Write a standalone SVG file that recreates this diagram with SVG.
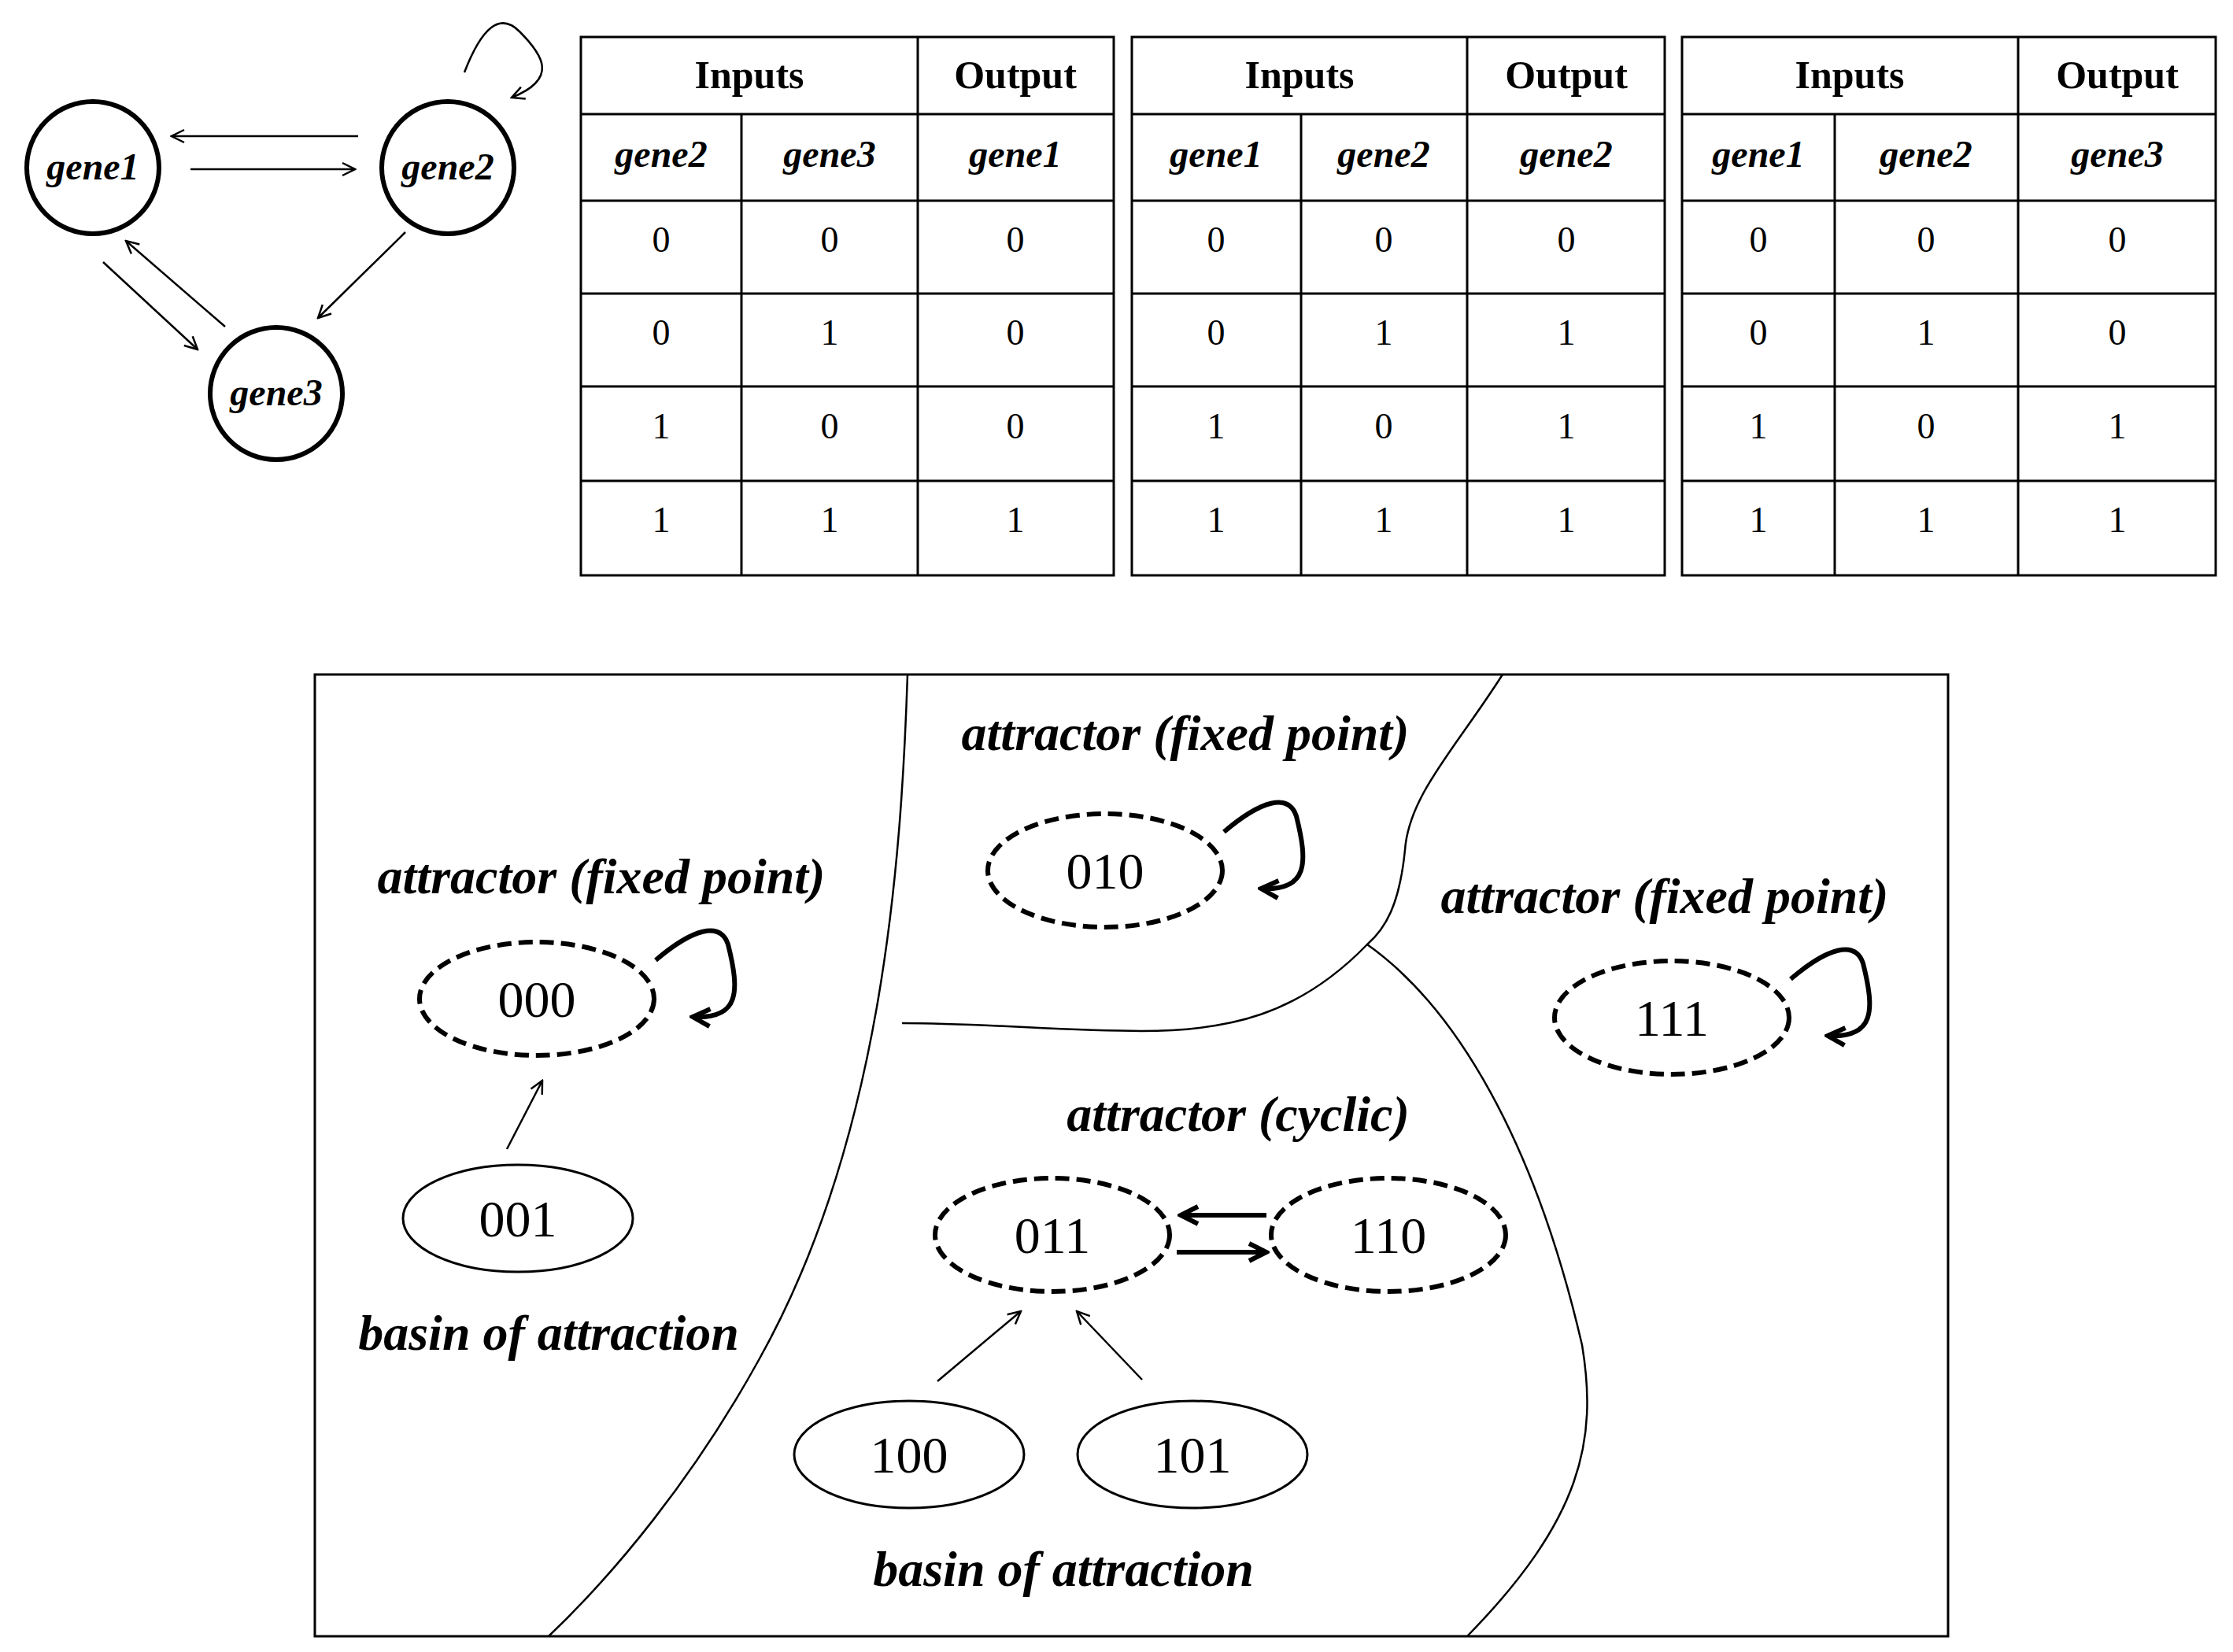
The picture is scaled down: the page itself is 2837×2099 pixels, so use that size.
<svg xmlns="http://www.w3.org/2000/svg" width="2837" height="2099" viewBox="0 0 2837 2099">
<defs>
<marker id="a" viewBox="0 0 20 20" refX="18" refY="10" markerWidth="20" markerHeight="20" markerUnits="userSpaceOnUse" orient="auto"><path d="M2,2 L18,10 L2,18" fill="none" stroke="#000" stroke-width="2.5"/></marker>
<marker id="b" viewBox="0 0 30 30" refX="26" refY="15" markerWidth="30" markerHeight="30" markerUnits="userSpaceOnUse" orient="auto"><path d="M4,4 L26,15 L4,26" fill="none" stroke="#000" stroke-width="6"/></marker>
<style>
.t{font-family:"Liberation Serif",serif;text-anchor:middle}
.h{font-size:50px;font-weight:bold}
.g{font-size:48px;font-weight:bold;font-style:italic}
.d{font-size:46px}
.l{font-size:64px;font-weight:bold;font-style:italic}
.n{font-size:66px}
.c{fill:#fff;stroke:#000;stroke-width:6}
.tb{fill:none;stroke:#000;stroke-width:3}
.e{fill:#fff;stroke:#000;stroke-width:3}
.ed{fill:#fff;stroke:#000;stroke-width:6;stroke-dasharray:18 9}
.w{fill:none;stroke:#000;stroke-width:2.5}
.k{fill:none;stroke:#000;stroke-width:6}
</style>
</defs>
<rect width="2837" height="2099" fill="#fff"/>
<g id="connectors">
<line class="w" x1="455" y1="173" x2="218" y2="173" marker-end="url(#a)"/>
<line class="w" x1="242" y1="215" x2="451" y2="215" marker-end="url(#a)"/>
<line class="w" x1="131" y1="333" x2="251" y2="444" marker-end="url(#a)"/>
<line class="w" x1="286" y1="415" x2="160" y2="306" marker-end="url(#a)"/>
<line class="w" x1="515" y1="295" x2="404" y2="404" marker-end="url(#a)"/>
<path class="w" d="M590,92 C612,35 635,15 660,40 C690,70 710,100 650,124" marker-end="url(#a)"/>
<line class="w" x1="644" y1="1460" x2="689" y2="1373" marker-end="url(#a)"/>
<line class="w" x1="1191" y1="1755" x2="1297" y2="1666" marker-end="url(#a)"/>
<line class="w" x1="1451" y1="1753" x2="1368" y2="1666" marker-end="url(#a)"/>
<line class="k" x1="1609" y1="1544" x2="1500" y2="1544" marker-end="url(#b)"/>
<line class="k" x1="1495" y1="1591" x2="1609" y2="1591" marker-end="url(#b)"/>
<path class="k" d="M833,1220 C880,1180 915,1170 925,1200 C940,1260 940,1295 880,1292" marker-end="url(#b)"/>
<path class="k" d="M1555,1057 C1602,1017 1637,1007 1647,1037 C1662,1097 1662,1132 1602,1129" marker-end="url(#b)"/>
<path class="k" d="M2275,1244 C2322,1204 2357,1194 2367,1224 C2382,1284 2382,1319 2322,1316" marker-end="url(#b)"/>
</g>
<g id="gene1"><circle class="c" cx="118" cy="213" r="84"/><text class="t g" x="118" y="228">gene1</text></g>
<g id="gene2"><circle class="c" cx="569" cy="213" r="84"/><text class="t g" x="569" y="228">gene2</text></g>
<g id="gene3"><circle class="c" cx="351" cy="500" r="84"/><text class="t g" x="351" y="515">gene3</text></g>
<g id="table1">
<rect class="tb" x="738" y="47" width="677" height="684"/>
<path class="tb" d="M738,145H1415M738,255H1415M738,373H1415M738,491H1415M738,611H1415M1166,47V731M942,145V731"/>
<text class="t h" x="952" y="112">Inputs</text><text class="t h" x="1290" y="112">Output</text>
<text class="t g" x="840" y="212">gene2</text><text class="t g" x="1054" y="212">gene3</text><text class="t g" x="1290" y="212">gene1</text>
<g class="t d"><text x="840" y="320">0</text><text x="1054" y="320">0</text><text x="1290" y="320">0</text>
<text x="840" y="438">0</text><text x="1054" y="438">1</text><text x="1290" y="438">0</text>
<text x="840" y="557">1</text><text x="1054" y="557">0</text><text x="1290" y="557">0</text>
<text x="840" y="676">1</text><text x="1054" y="676">1</text><text x="1290" y="676">1</text></g>
</g>
<g id="table2">
<rect class="tb" x="1438" y="47" width="677" height="684"/>
<path class="tb" d="M1438,145H2115M1438,255H2115M1438,373H2115M1438,491H2115M1438,611H2115M1864,47V731M1653,145V731"/>
<text class="t h" x="1651" y="112">Inputs</text><text class="t h" x="1990" y="112">Output</text>
<text class="t g" x="1545" y="212">gene1</text><text class="t g" x="1758" y="212">gene2</text><text class="t g" x="1990" y="212">gene2</text>
<g class="t d"><text x="1545" y="320">0</text><text x="1758" y="320">0</text><text x="1990" y="320">0</text>
<text x="1545" y="438">0</text><text x="1758" y="438">1</text><text x="1990" y="438">1</text>
<text x="1545" y="557">1</text><text x="1758" y="557">0</text><text x="1990" y="557">1</text>
<text x="1545" y="676">1</text><text x="1758" y="676">1</text><text x="1990" y="676">1</text></g>
</g>
<g id="table3">
<rect class="tb" x="2137" y="47" width="678" height="684"/>
<path class="tb" d="M2137,145H2815M2137,255H2815M2137,373H2815M2137,491H2815M2137,611H2815M2564,47V731M2331,145V731"/>
<text class="t h" x="2350" y="112">Inputs</text><text class="t h" x="2690" y="112">Output</text>
<text class="t g" x="2234" y="212">gene1</text><text class="t g" x="2447" y="212">gene2</text><text class="t g" x="2690" y="212">gene3</text>
<g class="t d"><text x="2234" y="320">0</text><text x="2447" y="320">0</text><text x="2690" y="320">0</text>
<text x="2234" y="438">0</text><text x="2447" y="438">1</text><text x="2690" y="438">0</text>
<text x="2234" y="557">1</text><text x="2447" y="557">0</text><text x="2690" y="557">1</text>
<text x="2234" y="676">1</text><text x="2447" y="676">1</text><text x="2690" y="676">1</text></g>
</g>
<g id="statespace">
<rect x="400" y="857" width="2075" height="1222" fill="none" stroke="#000" stroke-width="3"/>
<path class="w" d="M1153,857 C1145,1100 1120,1450 964,1728 C880,1880 780,2000 697,2079"/>
<path class="w" d="M1909,857 C1850,950 1790,1010 1785,1080 C1778,1150 1760,1180 1737,1200 C1650,1290 1560,1310 1450,1310 C1350,1310 1250,1300 1146,1300"/>
<path class="w" d="M1737,1200 C1850,1280 1950,1450 2010,1709 C2030,1830 2010,1930 1864,2079"/>
<text class="t l" x="1506" y="953">attractor (fixed point)</text>
<text class="t l" x="764" y="1135">attractor (fixed point)</text>
<text class="t l" x="2115" y="1160">attractor (fixed point)</text>
<text class="t l" x="1573" y="1437">attractor (cyclic)</text>
<text class="t l" x="697" y="1715">basin of attraction</text>
<text class="t l" x="1351" y="2015">basin of attraction</text>
</g>
<g id="s000"><ellipse class="ed" cx="682" cy="1269" rx="149" ry="72"/><text class="t n" x="682" y="1292">000</text></g>
<g id="s010"><ellipse class="ed" cx="1404" cy="1106" rx="149" ry="72"/><text class="t n" x="1404" y="1129">010</text></g>
<g id="s111"><ellipse class="ed" cx="2124" cy="1293" rx="149" ry="72"/><text class="t n" x="2124" y="1316">111</text></g>
<g id="s011"><ellipse class="ed" cx="1337" cy="1569" rx="149" ry="72"/><text class="t n" x="1337" y="1592">011</text></g>
<g id="s110"><ellipse class="ed" cx="1764" cy="1569" rx="149" ry="72"/><text class="t n" x="1764" y="1592">110</text></g>
<g id="s001"><ellipse class="e" cx="658" cy="1548" rx="146" ry="68"/><text class="t n" x="658" y="1571">001</text></g>
<g id="s100"><ellipse class="e" cx="1155" cy="1848" rx="146" ry="68"/><text class="t n" x="1155" y="1871">100</text></g>
<g id="s101"><ellipse class="e" cx="1515" cy="1848" rx="146" ry="68"/><text class="t n" x="1515" y="1871">101</text></g>
</svg>
